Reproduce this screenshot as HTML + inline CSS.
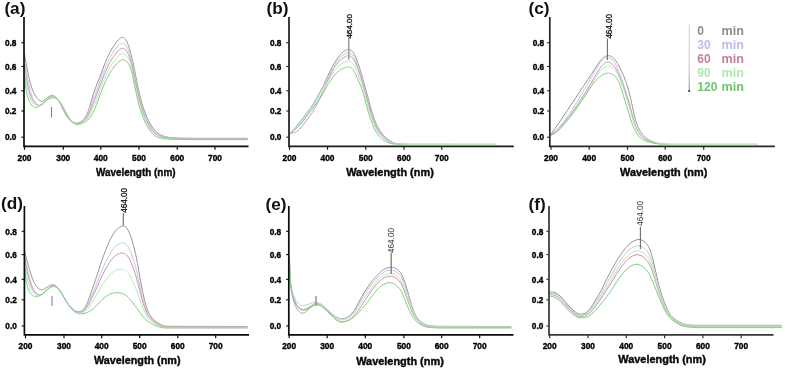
<!DOCTYPE html><html><head><meta charset="utf-8"><title>UV-Vis spectra</title><style>html,body{margin:0;padding:0;background:#fff;width:785px;height:370px;overflow:hidden}svg{display:block}text{font-family:"Liberation Sans", Arial, Helvetica, sans-serif}.tk{font-size:9px;font-weight:bold;fill:#000;stroke:#000;stroke-width:0.38px}.ti{font-size:10.8px;font-weight:bold;fill:#0a0a0a;stroke:#0a0a0a;stroke-width:0.4px}.pl{font-size:17.2px;font-weight:bold;fill:#111}.lb{font-size:8.2px;fill:#333}.lg{font-size:12px;font-weight:bold}</style></head><body><svg width="785" height="370" viewBox="0 0 785 370"><g fill="none" stroke-width="1.0" stroke-linejoin="round"><path d="M24.5,54.5 L26.5,65.3 L28.5,75.3 L29.5,79.8 L30.5,83.6 L31.5,87.0 L32.5,89.9 L33.5,92.2 L34.5,94.2 L35.5,95.9 L36.5,97.4 L37.5,98.6 L38.5,99.7 L39.5,100.5 L40.5,101.0 L41.5,101.3 L42.5,101.1 L43.5,100.7 L44.5,99.9 L47.5,97.3 L49.5,96.1 L50.5,95.7 L51.5,95.5 L52.5,95.5 L53.5,95.7 L54.5,96.2 L55.5,97.0 L56.5,97.9 L57.5,99.1 L58.5,100.6 L59.5,102.4 L63.5,110.4 L65.5,114.2 L67.5,117.3 L69.5,119.8 L70.5,120.8 L71.5,121.6 L72.5,122.2 L73.5,122.7 L74.5,122.9 L75.5,123.1 L76.5,123.1 L77.5,123.0 L78.5,122.7 L80.5,121.9 L81.5,121.3 L82.5,120.6 L83.5,119.6 L84.5,118.4 L85.5,117.0 L86.5,115.2 L87.5,113.0 L88.5,110.4 L89.5,107.4 L93.5,93.6 L95.5,87.9 L99.5,77.8 L105.5,61.9 L107.5,57.3 L110.5,51.3 L112.5,47.8 L114.5,44.8 L116.5,42.1 L118.5,39.7 L119.5,38.7 L120.5,37.9 L121.5,37.4 L122.5,37.3 L123.5,37.6 L124.5,38.3 L125.5,39.4 L126.5,41.0 L127.5,43.1 L128.5,45.7 L129.5,48.8 L130.5,52.3 L132.5,60.4 L134.5,69.8 L137.5,84.8 L139.5,94.1 L141.5,101.9 L142.5,105.3 L144.5,111.2 L146.5,116.3 L147.5,118.6 L148.5,120.7 L150.5,124.3 L152.5,127.3 L153.5,128.6 L155.5,130.8 L157.5,132.6 L159.5,134.1 L160.5,134.7 L161.5,135.3 L163.5,136.1 L165.5,136.6 L168.5,137.3 L171.5,137.7 L173.5,137.9 L180.5,138.1 L193.5,138.3 L247.5,138.3" stroke="#98988f"/><path d="M24.5,60.1 L25.5,66.9 L26.5,72.7 L28.5,83.3 L29.5,87.8 L30.5,91.5 L31.5,94.7 L32.5,97.4 L33.5,99.5 L34.5,101.1 L35.5,102.4 L36.5,103.5 L37.5,104.4 L38.5,105.0 L39.5,105.3 L40.5,105.3 L41.5,105.0 L42.5,104.4 L43.5,103.6 L47.5,99.1 L49.5,97.4 L50.5,96.8 L51.5,96.4 L52.5,96.2 L53.5,96.3 L54.5,96.7 L55.5,97.3 L56.5,98.2 L57.5,99.2 L58.5,100.5 L60.5,103.9 L65.5,113.5 L67.5,116.7 L69.5,119.4 L70.5,120.5 L71.5,121.4 L72.5,122.1 L73.5,122.7 L74.5,123.1 L75.5,123.3 L76.5,123.4 L77.5,123.4 L78.5,123.2 L80.5,122.5 L82.5,121.3 L83.5,120.4 L84.5,119.4 L85.5,118.2 L86.5,116.7 L87.5,114.9 L88.5,112.7 L89.5,110.2 L92.5,101.2 L94.5,95.6 L104.5,69.4 L107.5,62.5 L110.5,56.6 L112.5,53.3 L114.5,50.3 L116.5,47.7 L118.5,45.5 L119.5,44.5 L120.5,43.8 L121.5,43.3 L122.5,43.1 L123.5,43.3 L124.5,43.9 L125.5,44.9 L126.5,46.3 L127.5,48.1 L128.5,50.4 L129.5,53.2 L130.5,56.4 L131.5,60.2 L133.5,68.8 L137.5,88.5 L139.5,97.5 L141.5,104.9 L143.5,111.0 L145.5,116.2 L146.5,118.6 L147.5,120.7 L149.5,124.5 L151.5,127.6 L152.5,129.0 L154.5,131.3 L156.5,133.0 L158.5,134.5 L160.5,135.6 L161.5,136.1 L163.5,136.8 L165.5,137.2 L168.5,137.7 L173.5,138.3 L181.5,138.5 L194.5,138.6 L247.5,138.6" stroke="#c4c4f0"/><path d="M24.5,65.0 L25.5,72.8 L26.5,78.8 L27.5,83.8 L28.5,88.1 L29.5,91.9 L30.5,95.0 L31.5,97.7 L32.5,99.9 L33.5,101.6 L34.5,102.9 L35.5,103.9 L36.5,104.6 L37.5,105.1 L38.5,105.4 L39.5,105.4 L40.5,105.1 L41.5,104.6 L42.5,103.9 L43.5,103.1 L47.5,99.1 L49.5,97.6 L50.5,97.1 L51.5,96.8 L52.5,96.6 L53.5,96.8 L54.5,97.1 L55.5,97.6 L56.5,98.4 L57.5,99.3 L58.5,100.5 L59.5,101.9 L61.5,105.4 L64.5,111.0 L66.5,114.6 L68.5,117.7 L70.5,120.2 L71.5,121.2 L72.5,122.1 L73.5,122.7 L74.5,123.2 L75.5,123.6 L76.5,123.7 L77.5,123.8 L78.5,123.6 L79.5,123.4 L81.5,122.5 L83.5,121.2 L84.5,120.3 L85.5,119.3 L86.5,118.0 L87.5,116.5 L88.5,114.7 L90.5,110.2 L96.5,94.8 L101.5,81.5 L104.5,73.8 L107.5,67.0 L110.5,61.4 L112.5,58.2 L114.5,55.3 L116.5,52.7 L118.5,50.6 L119.5,49.7 L120.5,49.0 L121.5,48.5 L122.5,48.3 L123.5,48.5 L124.5,48.9 L125.5,49.8 L126.5,51.0 L127.5,52.6 L128.5,54.6 L129.5,57.1 L130.5,60.1 L131.5,63.6 L132.5,67.7 L137.5,91.8 L139.5,100.5 L141.5,107.5 L143.5,113.4 L145.5,118.4 L146.5,120.6 L147.5,122.7 L149.5,126.2 L151.5,129.2 L152.5,130.5 L154.5,132.6 L156.5,134.1 L158.5,135.4 L160.5,136.4 L161.5,136.8 L163.5,137.4 L167.5,138.1 L173.5,138.6 L182.5,138.8 L194.5,138.9 L247.5,138.9" stroke="#d092ac"/><path d="M24.5,70.2 L25.5,79.0 L26.5,85.1 L27.5,89.7 L28.5,93.4 L29.5,96.5 L30.5,98.9 L31.5,101.0 L32.5,102.6 L33.5,103.8 L34.5,104.7 L35.5,105.4 L36.5,105.7 L37.5,105.9 L38.5,105.8 L39.5,105.5 L41.5,104.4 L43.5,102.9 L47.5,99.5 L49.5,98.1 L50.5,97.7 L51.5,97.3 L52.5,97.2 L53.5,97.3 L54.5,97.5 L55.5,98.0 L56.5,98.6 L57.5,99.4 L58.5,100.4 L59.5,101.7 L61.5,104.9 L65.5,112.2 L67.5,115.7 L69.5,118.7 L70.5,119.9 L72.5,122.0 L73.5,122.7 L74.5,123.3 L75.5,123.8 L76.5,124.1 L77.5,124.2 L78.5,124.1 L79.5,123.8 L81.5,123.0 L83.5,121.9 L84.5,121.2 L86.5,119.4 L87.5,118.2 L88.5,116.8 L90.5,113.3 L93.5,106.8 L96.5,99.5 L100.5,88.6 L103.5,80.8 L106.5,73.9 L109.5,68.1 L111.5,64.7 L113.5,61.8 L115.5,59.1 L117.5,56.9 L119.5,55.1 L120.5,54.4 L121.5,53.9 L122.5,53.7 L123.5,53.8 L124.5,54.2 L125.5,54.9 L126.5,55.9 L127.5,57.2 L128.5,58.9 L129.5,61.1 L130.5,63.9 L131.5,67.2 L132.5,71.3 L136.5,90.6 L138.5,99.6 L140.5,107.1 L141.5,110.3 L143.5,115.8 L145.5,120.6 L146.5,122.7 L147.5,124.6 L149.5,128.0 L151.5,130.8 L152.5,132.0 L153.5,133.0 L155.5,134.7 L156.5,135.3 L158.5,136.4 L160.5,137.2 L162.5,137.8 L165.5,138.3 L171.5,138.8 L180.5,139.1 L193.5,139.2 L247.5,139.2" stroke="#b4ecb4"/><path d="M24.5,76.0 L25.5,86.0 L26.5,92.3 L27.5,96.3 L28.5,99.4 L29.5,101.7 L30.5,103.5 L31.5,105.0 L32.5,106.0 L33.5,106.8 L34.5,107.3 L35.5,107.5 L36.5,107.5 L37.5,107.2 L38.5,106.7 L39.5,106.0 L46.5,100.4 L48.5,99.2 L49.5,98.6 L50.5,98.2 L51.5,97.9 L52.5,97.8 L53.5,97.8 L54.5,98.0 L55.5,98.3 L56.5,98.8 L57.5,99.5 L58.5,100.3 L59.5,101.4 L60.5,102.8 L62.5,106.0 L66.5,113.3 L68.5,116.7 L70.5,119.6 L71.5,120.8 L73.5,122.8 L74.5,123.5 L75.5,124.1 L76.5,124.4 L77.5,124.6 L78.5,124.6 L79.5,124.4 L81.5,123.7 L83.5,122.8 L85.5,121.6 L87.5,120.2 L88.5,119.2 L89.5,118.1 L90.5,116.8 L92.5,113.6 L94.5,109.6 L96.5,104.7 L100.5,93.5 L103.5,85.9 L106.5,79.2 L109.5,73.6 L111.5,70.4 L114.5,66.2 L116.5,63.8 L118.5,61.9 L119.5,61.1 L120.5,60.5 L121.5,60.1 L122.5,59.8 L123.5,59.8 L124.5,60.0 L125.5,60.6 L126.5,61.4 L127.5,62.4 L128.5,63.8 L129.5,65.7 L130.5,68.1 L131.5,71.3 L132.5,75.3 L136.5,94.6 L138.5,103.3 L140.5,110.4 L142.5,116.1 L143.5,118.6 L145.5,123.1 L146.5,125.1 L148.5,128.5 L149.5,130.0 L151.5,132.6 L153.5,134.7 L154.5,135.5 L155.5,136.1 L157.5,137.1 L160.5,138.1 L163.5,138.8 L166.5,139.0 L178.5,139.4 L191.5,139.6 L247.5,139.6" stroke="#80d080"/><path d="M289.5,133.5 L295.5,127.4 L298.5,124.0 L309.5,109.4 L312.5,105.1 L316.5,98.5 L320.5,91.4 L323.5,85.4 L327.5,76.5 L330.5,70.3 L332.5,66.4 L334.5,62.9 L337.5,58.2 L339.5,55.5 L340.5,54.3 L341.5,53.3 L343.5,51.6 L345.5,50.3 L346.5,49.8 L347.5,49.5 L348.5,49.4 L349.5,49.6 L350.5,50.0 L351.5,50.7 L352.5,51.7 L353.5,53.0 L354.5,54.6 L355.5,56.5 L356.5,58.9 L357.5,61.5 L359.5,67.6 L362.5,77.4 L370.5,106.8 L372.5,113.8 L374.5,119.7 L376.5,124.5 L377.5,126.5 L379.5,130.0 L380.5,131.5 L382.5,134.1 L385.5,137.4 L387.5,139.2 L389.5,140.6 L392.5,142.3 L394.5,143.1 L395.5,143.4 L397.5,143.7 L401.5,143.9 L496.5,144.0" stroke="#98988f"/><path d="M289.5,133.6 L295.5,127.7 L297.5,125.6 L299.5,123.2 L309.5,110.0 L312.5,105.7 L317.5,97.7 L320.5,92.6 L322.5,88.7 L327.5,78.2 L330.5,72.3 L332.5,68.6 L334.5,65.2 L337.5,60.8 L339.5,58.4 L340.5,57.3 L341.5,56.3 L343.5,54.7 L345.5,53.6 L346.5,53.1 L347.5,52.9 L348.5,52.8 L349.5,52.9 L350.5,53.4 L351.5,54.0 L352.5,55.0 L353.5,56.3 L354.5,57.9 L355.5,59.9 L357.5,64.8 L359.5,70.5 L362.5,80.0 L371.5,112.6 L373.5,118.8 L375.5,123.9 L376.5,126.0 L378.5,129.7 L379.5,131.2 L381.5,134.0 L382.5,135.2 L384.5,137.3 L386.5,139.1 L388.5,140.5 L391.5,142.2 L393.5,143.0 L394.5,143.3 L397.5,143.8 L401.5,144.0 L496.5,144.1" stroke="#c4c4f0"/><path d="M289.5,133.7 L290.5,133.2 L292.5,133.0 L294.5,132.4 L295.5,132.1 L296.5,131.6 L297.5,130.9 L299.5,129.1 L301.5,126.9 L303.5,124.4 L311.5,113.6 L312.5,112.2 L314.5,108.7 L317.5,103.0 L320.5,97.0 L322.5,92.5 L326.5,83.0 L329.5,76.6 L332.5,70.8 L334.5,67.4 L336.5,64.5 L338.5,62.0 L340.5,59.9 L341.5,59.0 L343.5,57.6 L345.5,56.5 L346.5,56.1 L347.5,55.8 L348.5,55.8 L349.5,55.9 L350.5,56.3 L351.5,57.0 L352.5,58.0 L353.5,59.3 L354.5,60.9 L355.5,62.9 L357.5,67.7 L360.5,76.1 L362.5,82.3 L364.5,89.3 L368.5,104.1 L371.5,114.5 L373.5,120.5 L375.5,125.4 L376.5,127.4 L378.5,130.9 L379.5,132.4 L381.5,134.9 L382.5,136.1 L384.5,138.0 L386.5,139.7 L388.5,141.0 L391.5,142.5 L393.5,143.2 L394.5,143.5 L397.5,143.9 L401.5,144.1 L496.5,144.2" stroke="#d092ac"/><path d="M289.5,133.8 L296.5,127.6 L299.5,124.6 L302.5,120.9 L311.5,108.7 L316.5,101.6 L319.5,97.1 L321.5,93.7 L326.5,84.2 L329.5,78.8 L332.5,74.0 L335.5,69.8 L338.5,66.4 L340.5,64.6 L341.5,63.8 L343.5,62.6 L345.5,61.7 L347.5,61.1 L348.5,61.0 L349.5,61.2 L350.5,61.6 L351.5,62.3 L352.5,63.3 L353.5,64.6 L354.5,66.3 L355.5,68.2 L357.5,72.8 L360.5,80.6 L362.5,86.4 L364.5,93.3 L368.5,108.1 L371.5,118.0 L373.5,123.5 L375.5,128.0 L377.5,131.6 L378.5,133.0 L380.5,135.6 L381.5,136.7 L383.5,138.6 L385.5,140.1 L387.5,141.3 L390.5,142.6 L393.5,143.5 L396.5,144.0 L401.5,144.3 L496.5,144.3" stroke="#b4ecb4"/><path d="M289.5,134.0 L298.5,126.5 L300.5,124.5 L302.5,122.0 L308.5,113.8 L317.5,101.9 L319.5,99.1 L321.5,95.9 L326.5,87.0 L328.5,83.7 L331.5,79.2 L334.5,75.3 L335.5,74.2 L337.5,72.2 L339.5,70.5 L341.5,69.2 L343.5,68.3 L345.5,67.5 L347.5,67.1 L348.5,67.0 L349.5,67.2 L350.5,67.5 L351.5,68.2 L352.5,69.2 L353.5,70.6 L354.5,72.3 L355.5,74.2 L357.5,78.6 L359.5,83.2 L361.5,88.3 L363.5,94.3 L367.5,109.0 L370.5,119.0 L372.5,124.5 L374.5,129.1 L376.5,132.7 L377.5,134.2 L379.5,136.7 L380.5,137.7 L382.5,139.5 L384.5,140.9 L385.5,141.5 L386.5,142.0 L388.5,142.8 L390.5,143.4 L392.5,143.8 L396.5,144.2 L401.5,144.5 L496.5,144.5" stroke="#80d080"/><path d="M550.5,135.0 L554.5,129.3 L558.5,123.5 L590.5,75.5 L597.5,64.8 L599.5,61.9 L601.5,59.4 L602.5,58.4 L603.5,57.5 L604.5,56.8 L605.5,56.2 L606.5,55.9 L607.5,55.7 L608.5,55.6 L609.5,55.8 L610.5,56.0 L611.5,56.5 L612.5,57.2 L613.5,58.0 L614.5,59.1 L615.5,60.3 L617.5,63.4 L619.5,67.1 L621.5,71.1 L623.5,75.5 L625.5,80.6 L626.5,83.5 L628.5,90.0 L630.5,97.7 L633.5,111.7 L634.5,116.0 L635.5,119.7 L636.5,122.9 L637.5,125.6 L638.5,127.8 L639.5,129.8 L640.5,131.5 L642.5,134.3 L643.5,135.4 L645.5,137.5 L646.5,138.3 L648.5,139.7 L650.5,140.7 L652.5,141.6 L654.5,142.4 L656.5,142.9 L658.5,143.4 L660.5,143.6 L665.5,143.9 L672.5,144.0 L757.5,144.0" stroke="#98988f"/><path d="M550.5,135.3 L555.5,131.0 L558.5,127.9 L565.5,119.3 L569.5,114.0 L572.5,109.4 L583.5,90.9 L590.5,78.9 L596.5,68.2 L598.5,64.9 L599.5,63.4 L601.5,61.1 L602.5,60.1 L603.5,59.2 L604.5,58.6 L605.5,58.1 L606.5,57.8 L607.5,57.6 L608.5,57.6 L609.5,57.8 L610.5,58.2 L611.5,58.9 L612.5,59.8 L613.5,61.1 L614.5,62.5 L616.5,66.1 L618.5,70.3 L619.5,72.7 L622.5,81.1 L627.5,96.6 L629.5,103.5 L633.5,118.8 L634.5,122.1 L635.5,125.1 L636.5,127.6 L637.5,129.7 L638.5,131.5 L639.5,133.1 L640.5,134.4 L641.5,135.6 L643.5,137.5 L644.5,138.3 L646.5,139.6 L648.5,140.7 L650.5,141.5 L653.5,142.5 L655.5,143.1 L657.5,143.5 L659.5,143.7 L665.5,144.1 L672.5,144.2 L757.5,144.2" stroke="#c4c4f0"/><path d="M550.5,135.4 L555.5,132.0 L557.5,130.2 L558.5,129.2 L561.5,125.8 L568.5,117.3 L572.5,111.9 L582.5,97.1 L585.5,92.3 L590.5,83.9 L596.5,73.6 L599.5,68.9 L601.5,66.3 L603.5,64.1 L604.5,63.3 L605.5,62.6 L606.5,62.2 L607.5,62.0 L608.5,62.1 L609.5,62.4 L610.5,62.9 L611.5,63.6 L612.5,64.5 L614.5,66.7 L615.5,68.1 L617.5,71.6 L618.5,73.7 L620.5,78.6 L623.5,86.6 L625.5,92.5 L628.5,102.1 L633.5,120.3 L634.5,123.5 L635.5,126.3 L636.5,128.6 L637.5,130.7 L638.5,132.4 L639.5,133.8 L640.5,135.1 L641.5,136.1 L643.5,137.9 L644.5,138.7 L646.5,139.9 L648.5,140.9 L650.5,141.7 L653.5,142.6 L655.5,143.1 L657.5,143.5 L659.5,143.8 L665.5,144.2 L672.5,144.3 L757.5,144.3" stroke="#d092ac"/><path d="M550.5,135.5 L553.5,133.8 L555.5,132.6 L557.5,131.0 L558.5,130.0 L560.5,127.9 L565.5,122.0 L569.5,117.1 L572.5,113.0 L580.5,101.6 L583.5,97.2 L587.5,90.9 L596.5,76.1 L598.5,73.1 L599.5,71.8 L601.5,69.7 L602.5,68.7 L604.5,67.2 L605.5,66.7 L606.5,66.4 L607.5,66.2 L608.5,66.2 L609.5,66.3 L610.5,66.6 L611.5,67.1 L612.5,67.7 L613.5,68.5 L614.5,69.5 L615.5,70.7 L616.5,72.1 L617.5,73.9 L618.5,75.8 L620.5,80.6 L624.5,91.8 L627.5,101.2 L633.5,122.0 L634.5,125.0 L635.5,127.6 L636.5,129.8 L637.5,131.7 L638.5,133.3 L639.5,134.6 L640.5,135.8 L642.5,137.7 L644.5,139.1 L646.5,140.3 L648.5,141.1 L650.5,141.9 L653.5,142.8 L655.5,143.2 L659.5,143.9 L665.5,144.2 L672.5,144.3 L757.5,144.3" stroke="#b4ecb4"/><path d="M550.5,135.5 L554.5,133.5 L555.5,132.9 L557.5,131.4 L558.5,130.5 L560.5,128.4 L568.5,119.2 L571.5,115.3 L581.5,101.4 L585.5,95.4 L591.5,86.0 L593.5,83.2 L595.5,80.8 L598.5,77.9 L600.5,76.3 L602.5,75.0 L604.5,74.0 L605.5,73.6 L607.5,73.2 L608.5,73.2 L609.5,73.3 L610.5,73.5 L611.5,73.8 L612.5,74.3 L613.5,75.0 L614.5,75.8 L615.5,76.9 L616.5,78.2 L617.5,79.7 L618.5,81.6 L619.5,83.9 L621.5,89.5 L626.5,105.4 L630.5,118.8 L632.5,124.8 L633.5,127.4 L635.5,131.6 L636.5,133.3 L637.5,134.8 L638.5,136.1 L639.5,137.1 L641.5,138.8 L642.5,139.4 L644.5,140.5 L646.5,141.3 L648.5,141.9 L651.5,142.7 L654.5,143.4 L656.5,143.7 L659.5,144.0 L665.5,144.4 L672.5,144.5 L757.5,144.5" stroke="#80d080"/><path d="M24.5,250.5 L25.5,255.1 L26.5,258.9 L29.5,269.5 L31.5,276.0 L32.5,278.8 L33.5,281.2 L34.5,283.3 L35.5,285.0 L36.5,286.4 L37.5,287.7 L38.5,288.6 L39.5,289.3 L40.5,289.7 L41.5,289.8 L42.5,289.7 L43.5,289.4 L44.5,288.8 L48.5,286.2 L50.5,285.2 L51.5,284.9 L52.5,284.8 L53.5,284.9 L54.5,285.2 L55.5,285.7 L56.5,286.5 L57.5,287.5 L58.5,288.7 L60.5,291.7 L64.5,298.3 L67.5,303.0 L69.5,305.7 L71.5,308.0 L73.5,309.8 L74.5,310.5 L75.5,311.0 L76.5,311.4 L77.5,311.5 L78.5,311.6 L79.5,311.4 L80.5,311.2 L81.5,310.8 L82.5,310.2 L83.5,309.2 L84.5,308.0 L85.5,306.4 L86.5,304.5 L87.5,302.3 L89.5,297.3 L92.5,288.8 L95.5,279.9 L100.5,264.5 L103.5,255.8 L105.5,250.5 L107.5,245.6 L109.5,241.2 L111.5,237.2 L113.5,233.7 L114.5,232.2 L115.5,230.9 L117.5,228.8 L119.5,227.3 L120.5,226.7 L121.5,226.2 L122.5,226.0 L123.5,226.0 L124.5,226.3 L125.5,226.9 L126.5,227.8 L127.5,229.1 L128.5,230.8 L129.5,233.0 L130.5,235.6 L131.5,238.6 L133.5,245.4 L135.5,253.4 L136.5,258.2 L137.5,263.5 L140.5,280.9 L142.5,291.3 L144.5,300.0 L146.5,307.3 L147.5,310.1 L148.5,312.4 L149.5,314.3 L150.5,315.9 L152.5,318.4 L153.5,319.5 L155.5,321.3 L156.5,322.0 L158.5,323.3 L161.5,324.8 L163.5,325.5 L164.5,325.8 L165.5,326.0 L167.5,326.3 L195.5,326.4 L247.5,326.5" stroke="#98988f"/><path d="M24.5,254.4 L25.5,260.4 L27.5,269.8 L29.5,277.8 L30.5,281.2 L31.5,284.3 L32.5,286.9 L33.5,289.1 L34.5,290.8 L35.5,292.1 L36.5,293.2 L37.5,294.1 L38.5,294.7 L39.5,295.1 L40.5,295.1 L41.5,294.7 L42.5,294.2 L43.5,293.4 L44.5,292.4 L48.5,288.2 L50.5,286.5 L51.5,286.0 L52.5,285.6 L53.5,285.4 L54.5,285.6 L55.5,286.1 L56.5,286.8 L57.5,287.7 L58.5,288.9 L60.5,291.7 L65.5,300.0 L67.5,303.1 L69.5,305.9 L71.5,308.2 L73.5,310.1 L74.5,310.8 L75.5,311.4 L76.5,311.8 L77.5,312.0 L78.5,312.1 L79.5,312.0 L80.5,311.9 L81.5,311.5 L82.5,311.0 L83.5,310.3 L84.5,309.3 L85.5,308.1 L86.5,306.6 L87.5,304.8 L89.5,300.8 L92.5,294.0 L95.5,286.6 L100.5,273.7 L103.5,266.5 L105.5,262.1 L107.5,258.1 L110.5,252.8 L112.5,249.8 L113.5,248.5 L114.5,247.3 L116.5,245.5 L118.5,244.2 L120.5,243.3 L121.5,243.0 L122.5,242.9 L123.5,243.0 L124.5,243.3 L125.5,243.9 L126.5,244.8 L127.5,245.9 L128.5,247.5 L129.5,249.4 L130.5,251.7 L132.5,257.0 L134.5,263.2 L136.5,270.6 L137.5,274.9 L140.5,289.0 L142.5,297.4 L144.5,304.6 L146.5,310.5 L147.5,312.8 L148.5,314.7 L149.5,316.3 L150.5,317.7 L152.5,319.9 L153.5,320.8 L155.5,322.4 L156.5,323.1 L158.5,324.2 L161.5,325.5 L164.5,326.4 L167.5,326.7 L195.5,326.8 L247.5,326.9" stroke="#c4c4f0"/><path d="M24.5,256.7 L25.5,263.5 L26.5,268.8 L27.5,273.2 L29.5,280.7 L31.5,286.4 L32.5,288.7 L33.5,290.5 L34.5,291.9 L35.5,293.0 L36.5,293.9 L37.5,294.6 L38.5,295.0 L39.5,295.2 L40.5,295.1 L41.5,294.7 L42.5,294.0 L43.5,293.2 L48.5,288.3 L50.5,286.8 L51.5,286.2 L52.5,285.8 L53.5,285.7 L54.5,285.8 L55.5,286.3 L56.5,286.9 L57.5,287.8 L58.5,289.0 L59.5,290.3 L61.5,293.3 L66.5,301.6 L68.5,304.6 L70.5,307.2 L72.5,309.3 L73.5,310.2 L74.5,311.0 L75.5,311.6 L76.5,312.0 L77.5,312.3 L78.5,312.4 L79.5,312.4 L80.5,312.3 L81.5,312.0 L82.5,311.5 L83.5,310.9 L84.5,310.1 L85.5,309.0 L86.5,307.8 L88.5,304.7 L91.5,299.1 L94.5,292.8 L100.5,279.2 L102.5,274.9 L105.5,269.1 L108.5,264.0 L110.5,261.1 L112.5,258.5 L114.5,256.4 L115.5,255.6 L117.5,254.3 L119.5,253.5 L121.5,253.0 L122.5,253.0 L123.5,253.2 L124.5,253.5 L125.5,254.1 L126.5,255.0 L127.5,256.1 L128.5,257.5 L129.5,259.2 L131.5,263.6 L133.5,268.8 L135.5,274.7 L137.5,281.8 L140.5,293.9 L142.5,301.1 L144.5,307.3 L146.5,312.4 L147.5,314.4 L148.5,316.1 L149.5,317.5 L150.5,318.7 L151.5,319.8 L153.5,321.6 L154.5,322.4 L156.5,323.7 L159.5,325.1 L162.5,326.2 L164.5,326.7 L167.5,326.9 L247.5,327.1" stroke="#d092ac"/><path d="M24.5,260.4 L25.5,268.5 L26.5,274.4 L27.5,278.8 L28.5,282.4 L29.5,285.5 L30.5,288.0 L31.5,290.1 L32.5,291.9 L33.5,293.3 L34.5,294.3 L35.5,295.0 L36.5,295.6 L37.5,295.9 L38.5,296.0 L39.5,295.9 L40.5,295.6 L41.5,295.0 L42.5,294.3 L44.5,292.5 L48.5,288.6 L50.5,287.1 L51.5,286.6 L52.5,286.2 L53.5,286.1 L54.5,286.2 L55.5,286.6 L56.5,287.2 L57.5,288.1 L58.5,289.1 L59.5,290.3 L61.5,293.3 L65.5,300.1 L67.5,303.3 L70.5,307.4 L72.5,309.6 L74.5,311.3 L75.5,311.9 L76.5,312.4 L77.5,312.7 L78.5,312.9 L79.5,313.0 L81.5,312.7 L82.5,312.4 L83.5,311.9 L84.5,311.4 L86.5,309.8 L87.5,308.8 L89.5,306.3 L92.5,302.0 L94.5,298.8 L100.5,288.1 L102.5,284.7 L105.5,280.2 L108.5,276.3 L110.5,274.2 L112.5,272.4 L114.5,271.0 L115.5,270.4 L116.5,270.0 L118.5,269.4 L120.5,269.1 L121.5,269.1 L122.5,269.2 L123.5,269.5 L124.5,269.9 L125.5,270.5 L126.5,271.3 L127.5,272.3 L128.5,273.5 L129.5,275.0 L130.5,276.7 L132.5,280.6 L135.5,287.5 L137.5,292.8 L141.5,304.4 L143.5,309.5 L145.5,313.7 L146.5,315.5 L147.5,317.0 L149.5,319.4 L150.5,320.4 L152.5,322.1 L154.5,323.5 L156.5,324.6 L159.5,325.9 L162.5,326.8 L164.5,327.2 L167.5,327.4 L247.5,327.5" stroke="#b4ecb4"/><path d="M24.5,266.0 L25.5,276.1 L26.5,282.6 L27.5,286.8 L28.5,289.8 L29.5,291.9 L30.5,293.4 L31.5,294.6 L32.5,295.5 L33.5,296.0 L34.5,296.4 L35.5,296.6 L36.5,296.6 L37.5,296.5 L38.5,296.1 L40.5,295.0 L42.5,293.5 L47.5,289.5 L49.5,288.1 L50.5,287.5 L51.5,287.1 L52.5,286.7 L53.5,286.6 L54.5,286.7 L55.5,287.1 L56.5,287.6 L57.5,288.4 L58.5,289.3 L59.5,290.4 L60.5,291.8 L62.5,294.9 L65.5,300.2 L67.5,303.5 L69.5,306.4 L71.5,308.8 L73.5,310.9 L75.5,312.4 L76.5,313.0 L77.5,313.4 L78.5,313.7 L79.5,313.8 L81.5,313.8 L84.5,313.3 L87.5,312.4 L89.5,311.4 L91.5,310.2 L93.5,308.6 L95.5,306.7 L100.5,301.4 L102.5,299.4 L105.5,296.9 L107.5,295.4 L109.5,294.4 L110.5,293.9 L112.5,293.3 L115.5,292.7 L116.5,292.6 L118.5,292.7 L121.5,293.2 L123.5,293.9 L125.5,295.0 L126.5,295.7 L128.5,297.5 L129.5,298.6 L131.5,301.1 L135.5,306.6 L142.5,315.9 L144.5,318.3 L146.5,320.1 L149.5,322.3 L151.5,323.6 L153.5,324.8 L156.5,326.1 L159.5,327.1 L162.5,327.7 L164.5,327.9 L166.5,328.0 L247.5,328.0" stroke="#80d080"/><path d="M289.3,256.0 L290.3,281.1 L291.3,288.6 L292.3,293.4 L293.3,297.0 L294.3,299.9 L295.3,302.1 L296.3,304.0 L297.3,305.6 L298.3,306.9 L299.3,307.9 L300.3,308.7 L301.3,309.2 L302.3,309.4 L303.3,309.4 L304.3,309.3 L305.3,309.0 L306.3,308.6 L308.3,307.6 L312.3,304.9 L314.3,303.8 L315.3,303.5 L316.3,303.4 L317.3,303.5 L318.3,303.8 L319.3,304.3 L320.3,304.8 L322.3,306.1 L325.3,308.4 L330.3,312.8 L332.3,314.4 L335.3,316.4 L337.3,317.6 L339.3,318.4 L340.3,318.6 L341.3,318.8 L343.3,318.6 L344.3,318.4 L346.3,317.7 L348.3,316.6 L350.3,315.1 L352.3,313.0 L354.3,310.3 L356.3,307.0 L361.3,297.5 L364.3,292.3 L370.3,283.3 L372.3,280.7 L374.3,278.3 L380.3,272.2 L382.3,270.5 L383.3,269.8 L385.3,268.6 L387.3,267.8 L389.3,267.4 L391.3,267.3 L392.3,267.4 L394.3,267.9 L396.3,268.8 L397.3,269.4 L398.3,270.2 L399.3,271.1 L400.3,272.3 L401.3,273.9 L402.3,275.8 L403.3,278.1 L405.3,283.5 L407.3,290.1 L411.3,304.3 L413.3,310.1 L414.3,312.6 L415.3,314.7 L416.3,316.5 L417.3,318.0 L418.3,319.3 L419.3,320.3 L421.3,322.1 L422.3,322.8 L424.3,324.0 L426.3,324.9 L427.3,325.2 L429.3,325.6 L433.3,326.0 L438.3,326.3 L467.3,326.4 L511.3,326.5" stroke="#98988f"/><path d="M289.3,256.4 L290.3,280.5 L291.3,287.2 L292.3,291.4 L293.3,294.6 L294.3,297.0 L295.3,298.9 L296.3,300.7 L297.3,302.1 L298.3,303.3 L299.3,304.3 L300.3,304.9 L301.3,305.4 L302.3,305.6 L303.3,305.6 L304.3,305.4 L307.3,304.6 L309.3,303.9 L312.3,302.7 L314.3,302.0 L315.3,301.9 L316.3,302.0 L317.3,302.2 L318.3,302.5 L320.3,303.5 L321.3,304.2 L323.3,305.7 L326.3,308.4 L331.3,313.2 L334.3,315.6 L337.3,317.7 L339.3,318.7 L340.3,319.0 L341.3,319.1 L342.3,319.2 L343.3,319.1 L345.3,318.7 L347.3,317.9 L348.3,317.3 L350.3,315.9 L351.3,314.9 L353.3,312.7 L355.3,310.0 L357.3,306.8 L362.3,298.0 L364.3,294.8 L367.3,290.3 L371.3,284.6 L374.3,281.0 L379.3,275.8 L381.3,273.9 L383.3,272.5 L385.3,271.3 L387.3,270.6 L389.3,270.2 L391.3,270.1 L392.3,270.2 L394.3,270.8 L396.3,271.8 L397.3,272.5 L398.3,273.3 L399.3,274.2 L400.3,275.5 L401.3,277.0 L402.3,279.0 L403.3,281.2 L405.3,286.6 L407.3,292.9 L411.3,306.1 L413.3,311.5 L414.3,313.7 L415.3,315.7 L416.3,317.3 L417.3,318.8 L418.3,319.9 L419.3,321.0 L421.3,322.6 L422.3,323.3 L424.3,324.5 L426.3,325.3 L427.3,325.6 L429.3,325.9 L433.3,326.3 L438.3,326.6 L466.3,326.7 L511.3,326.8" stroke="#c4c4f0"/><path d="M289.3,257.2 L290.3,282.4 L291.3,290.4 L292.3,295.6 L293.3,299.7 L294.3,303.0 L295.3,305.6 L296.3,307.6 L297.3,309.3 L298.3,310.7 L299.3,311.7 L300.3,312.5 L301.3,313.0 L302.3,313.2 L303.3,313.1 L304.3,312.7 L305.3,312.1 L306.3,311.3 L310.3,307.8 L312.3,306.4 L313.3,305.8 L315.3,305.0 L316.3,304.8 L317.3,304.8 L318.3,304.9 L319.3,305.1 L320.3,305.6 L321.3,306.1 L323.3,307.6 L326.3,310.3 L333.3,317.3 L336.3,319.8 L338.3,321.1 L339.3,321.5 L340.3,321.8 L341.3,322.0 L342.3,322.0 L344.3,321.7 L346.3,321.2 L347.3,320.8 L349.3,319.8 L351.3,318.4 L353.3,316.5 L356.3,313.0 L358.3,310.4 L361.3,306.1 L371.3,290.9 L374.3,287.0 L376.3,284.6 L378.3,282.5 L380.3,280.6 L381.3,279.8 L382.3,279.1 L384.3,277.8 L386.3,276.9 L387.3,276.6 L388.3,276.4 L390.3,276.3 L392.3,276.5 L393.3,276.8 L395.3,277.7 L396.3,278.4 L398.3,280.1 L399.3,281.1 L400.3,282.4 L401.3,284.0 L402.3,286.0 L403.3,288.2 L405.3,293.5 L410.3,307.6 L412.3,312.4 L414.3,316.3 L415.3,317.9 L416.3,319.3 L418.3,321.5 L419.3,322.4 L421.3,323.8 L423.3,325.0 L424.3,325.4 L426.3,326.1 L429.3,326.6 L433.3,327.0 L438.3,327.2 L511.3,327.4" stroke="#d092ac"/><path d="M289.3,256.8 L290.3,281.6 L291.3,289.1 L292.3,293.8 L293.3,297.5 L294.3,300.3 L295.3,302.5 L296.3,304.4 L297.3,306.0 L298.3,307.3 L299.3,308.3 L300.3,309.0 L301.3,309.5 L302.3,309.7 L303.3,309.7 L305.3,309.4 L307.3,308.5 L312.3,305.4 L314.3,304.5 L315.3,304.2 L316.3,304.0 L317.3,304.0 L318.3,304.2 L319.3,304.5 L320.3,304.9 L321.3,305.5 L323.3,306.9 L326.3,309.4 L331.3,314.1 L333.3,315.9 L335.3,317.4 L337.3,318.7 L339.3,319.6 L340.3,319.9 L341.3,320.0 L343.3,319.9 L344.3,319.7 L346.3,319.1 L348.3,318.2 L350.3,316.9 L352.3,315.1 L354.3,312.9 L357.3,308.8 L363.3,299.5 L370.3,289.4 L372.3,286.8 L374.3,284.3 L378.3,280.0 L380.3,278.1 L382.3,276.6 L384.3,275.3 L385.3,274.8 L387.3,274.0 L388.3,273.8 L390.3,273.6 L391.3,273.7 L393.3,274.1 L394.3,274.5 L396.3,275.6 L398.3,277.2 L399.3,278.2 L400.3,279.5 L401.3,281.0 L402.3,283.0 L404.3,287.8 L406.3,293.5 L409.3,302.7 L411.3,308.4 L413.3,313.2 L414.3,315.2 L415.3,317.0 L416.3,318.5 L418.3,320.8 L419.3,321.8 L421.3,323.3 L423.3,324.5 L424.3,325.0 L426.3,325.7 L429.3,326.3 L433.3,326.7 L438.3,327.0 L511.3,327.1" stroke="#b4ecb4"/><path d="M289.3,258.0 L290.3,282.2 L291.3,289.7 L292.3,294.4 L293.3,298.1 L294.3,300.9 L295.3,303.1 L296.3,305.0 L297.3,306.6 L298.3,307.8 L299.3,308.8 L300.3,309.5 L301.3,309.9 L302.3,310.2 L303.3,310.2 L305.3,309.9 L307.3,309.1 L311.3,306.6 L313.3,305.7 L314.3,305.3 L316.3,304.9 L318.3,304.7 L319.3,304.9 L320.3,305.2 L321.3,305.7 L322.3,306.3 L324.3,307.8 L327.3,310.6 L332.3,315.9 L334.3,317.9 L336.3,319.6 L338.3,320.9 L339.3,321.4 L340.3,321.7 L341.3,321.8 L342.3,321.8 L344.3,321.6 L347.3,320.9 L349.3,320.1 L350.3,319.5 L352.3,318.2 L356.3,314.8 L359.3,311.9 L362.3,308.6 L364.3,306.2 L374.3,292.9 L377.3,289.5 L379.3,287.5 L380.3,286.7 L382.3,285.3 L385.3,283.6 L387.3,282.9 L388.3,282.8 L390.3,282.7 L392.3,283.1 L393.3,283.5 L394.3,283.9 L395.3,284.5 L397.3,286.2 L399.3,288.4 L400.3,289.7 L401.3,291.3 L402.3,293.3 L403.3,295.6 L407.3,305.8 L409.3,310.4 L411.3,314.4 L413.3,317.6 L415.3,320.2 L416.3,321.3 L418.3,323.1 L421.3,325.1 L423.3,326.1 L424.3,326.4 L426.3,327.0 L429.3,327.4 L434.3,327.8 L438.3,328.0 L511.3,328.0" stroke="#80d080"/><path d="M549.0,292.5 L550.0,292.1 L551.0,292.0 L553.0,292.0 L554.0,292.2 L556.0,293.0 L558.0,294.2 L560.0,295.9 L562.0,297.9 L568.0,304.9 L571.0,308.2 L574.0,311.0 L576.0,312.5 L577.0,313.2 L578.0,313.7 L579.0,314.1 L580.0,314.2 L581.0,314.3 L582.0,314.1 L584.0,313.6 L585.0,313.2 L586.0,312.7 L587.0,311.9 L589.0,310.0 L591.0,307.4 L593.0,304.2 L599.0,294.2 L601.0,290.7 L607.0,278.3 L615.0,263.6 L618.0,258.5 L620.0,255.5 L622.0,252.7 L625.0,248.8 L627.0,246.4 L629.0,244.3 L631.0,242.7 L633.0,241.4 L636.0,240.1 L638.0,239.5 L639.0,239.5 L640.0,239.5 L641.0,239.8 L642.0,240.2 L644.0,241.4 L645.0,242.2 L646.0,243.2 L647.0,244.4 L648.0,245.9 L649.0,247.7 L650.0,250.0 L651.0,252.7 L652.0,256.0 L653.0,259.7 L658.0,281.6 L660.0,289.3 L662.0,295.7 L665.0,303.8 L667.0,308.6 L668.0,310.7 L670.0,314.2 L671.0,315.6 L672.0,316.7 L674.0,318.5 L676.0,320.0 L678.0,321.2 L681.0,322.9 L684.0,324.2 L685.0,324.5 L687.0,324.9 L690.0,325.1 L700.0,325.3 L782.0,325.3" stroke="#98988f"/><path d="M549.0,293.4 L550.0,293.1 L551.0,293.0 L553.0,293.1 L554.0,293.4 L556.0,294.2 L558.0,295.5 L559.0,296.3 L561.0,298.2 L568.0,306.2 L571.0,309.3 L574.0,312.0 L576.0,313.5 L577.0,314.1 L578.0,314.6 L579.0,315.0 L580.0,315.1 L581.0,315.2 L582.0,315.1 L584.0,314.7 L586.0,313.8 L587.0,313.2 L588.0,312.4 L590.0,310.4 L592.0,307.9 L594.0,304.9 L601.0,293.9 L607.0,282.8 L616.0,267.1 L619.0,262.4 L621.0,259.5 L623.0,256.8 L626.0,253.2 L628.0,251.0 L629.0,250.1 L631.0,248.5 L633.0,247.3 L635.0,246.4 L637.0,245.9 L638.0,245.8 L639.0,245.8 L640.0,245.9 L641.0,246.2 L642.0,246.7 L644.0,248.0 L645.0,248.8 L646.0,249.8 L647.0,251.0 L648.0,252.4 L649.0,254.2 L650.0,256.3 L651.0,258.9 L652.0,261.9 L653.0,265.3 L658.0,284.9 L660.0,291.9 L661.0,295.0 L663.0,300.6 L665.0,305.6 L667.0,310.0 L668.0,311.9 L670.0,315.1 L671.0,316.4 L672.0,317.5 L673.0,318.4 L675.0,319.9 L677.0,321.3 L680.0,323.0 L683.0,324.4 L684.0,324.8 L686.0,325.2 L689.0,325.6 L694.0,325.8 L701.0,325.9 L782.0,325.9" stroke="#c4c4f0"/><path d="M549.0,294.6 L550.0,294.5 L551.0,294.6 L553.0,294.8 L554.0,295.2 L556.0,296.1 L558.0,297.4 L559.0,298.2 L561.0,300.2 L568.0,308.0 L571.0,311.0 L574.0,313.5 L576.0,314.9 L577.0,315.5 L578.0,315.9 L579.0,316.2 L580.0,316.4 L581.0,316.5 L582.0,316.4 L584.0,316.1 L586.0,315.5 L588.0,314.4 L590.0,312.8 L592.0,310.7 L595.0,306.9 L600.0,300.0 L603.0,295.6 L611.0,283.0 L616.0,274.8 L618.0,271.7 L621.0,267.3 L624.0,263.5 L626.0,261.2 L628.0,259.2 L629.0,258.3 L631.0,256.9 L633.0,255.8 L635.0,255.1 L637.0,254.7 L638.0,254.7 L639.0,254.9 L641.0,255.5 L642.0,256.0 L644.0,257.4 L646.0,259.3 L647.0,260.5 L648.0,261.8 L649.0,263.5 L650.0,265.5 L651.0,267.8 L652.0,270.4 L654.0,276.5 L658.0,289.7 L661.0,298.5 L663.0,303.5 L665.0,308.1 L667.0,312.0 L668.0,313.7 L670.0,316.5 L672.0,318.5 L674.0,320.2 L676.0,321.6 L678.0,322.9 L680.0,324.0 L682.0,324.9 L683.0,325.3 L686.0,326.0 L690.0,326.3 L696.0,326.6 L702.0,326.7 L782.0,326.7" stroke="#d092ac"/><path d="M549.0,294.1 L550.0,293.9 L551.0,293.9 L553.0,294.1 L554.0,294.4 L556.0,295.3 L558.0,296.6 L559.0,297.4 L561.0,299.3 L568.0,307.2 L571.0,310.3 L574.0,312.9 L576.0,314.3 L577.0,314.9 L578.0,315.4 L579.0,315.7 L580.0,315.8 L581.0,315.9 L582.0,315.8 L584.0,315.5 L586.0,314.8 L587.0,314.2 L588.0,313.5 L590.0,311.7 L592.0,309.5 L595.0,305.3 L600.0,298.1 L602.0,294.9 L606.0,288.1 L617.0,269.8 L621.0,263.8 L624.0,260.0 L626.0,257.6 L628.0,255.6 L629.0,254.7 L631.0,253.2 L633.0,252.1 L635.0,251.2 L637.0,250.8 L638.0,250.7 L639.0,250.8 L640.0,251.0 L641.0,251.4 L642.0,251.9 L643.0,252.5 L645.0,254.1 L647.0,256.3 L648.0,257.7 L649.0,259.3 L650.0,261.4 L651.0,263.8 L653.0,269.8 L658.0,287.5 L660.0,294.0 L661.0,297.0 L663.0,302.2 L665.0,307.0 L667.0,311.1 L668.0,312.9 L670.0,315.9 L672.0,318.1 L673.0,318.9 L675.0,320.5 L678.0,322.4 L680.0,323.6 L683.0,324.9 L684.0,325.2 L686.0,325.6 L690.0,326.0 L696.0,326.3 L782.0,326.3" stroke="#b4ecb4"/><path d="M549.0,296.0 L550.0,296.1 L552.0,296.4 L554.0,297.1 L556.0,298.1 L558.0,299.5 L559.0,300.3 L561.0,302.3 L567.0,308.9 L570.0,311.9 L573.0,314.5 L576.0,316.4 L578.0,317.3 L579.0,317.6 L581.0,317.9 L584.0,317.7 L586.0,317.3 L587.0,317.0 L588.0,316.6 L590.0,315.4 L592.0,313.8 L593.0,312.9 L595.0,310.8 L604.0,300.2 L607.0,296.3 L610.0,292.1 L617.0,281.5 L620.0,277.2 L623.0,273.3 L625.0,271.0 L628.0,268.1 L629.0,267.3 L631.0,266.0 L633.0,265.0 L634.0,264.7 L635.0,264.4 L636.0,264.3 L637.0,264.3 L638.0,264.4 L640.0,265.1 L642.0,266.2 L643.0,266.9 L644.0,267.7 L646.0,269.6 L648.0,272.0 L649.0,273.6 L650.0,275.4 L652.0,279.7 L659.0,297.4 L662.0,304.5 L665.0,310.8 L667.0,314.2 L668.0,315.6 L670.0,317.9 L671.0,318.8 L673.0,320.5 L676.0,322.6 L678.0,323.9 L681.0,325.5 L683.0,326.2 L686.0,326.7 L692.0,327.3 L698.0,327.6 L782.0,327.6" stroke="#80d080"/></g><defs><linearGradient id="vg1" gradientUnits="userSpaceOnUse" x1="392" y1="0" x2="410" y2="0"><stop offset="0" stop-color="#fff" stop-opacity="0"/><stop offset="1" stop-color="#fff" stop-opacity="0.55"/></linearGradient><linearGradient id="vg2" gradientUnits="userSpaceOnUse" x1="655" y1="0" x2="673" y2="0"><stop offset="0" stop-color="#fff" stop-opacity="0"/><stop offset="1" stop-color="#fff" stop-opacity="0.55"/></linearGradient></defs><rect x="392" y="142.3" width="106" height="3.2" fill="url(#vg1)"/><rect x="655" y="142.3" width="104" height="3.2" fill="url(#vg2)"/><g fill="none" stroke-width="1.1"><path d="M51.50,107.00 V117.50" stroke="#8a7f95" stroke-width="1.10"/><path d="M348.80,38.00 V59.50" stroke="#9a9aa2" stroke-width="1.50"/><path d="M607.40,38.50 V60.00" stroke="#6a6a70" stroke-width="1.10"/><path d="M52.00,296.00 V306.00" stroke="#8a7f95" stroke-width="1.10"/><path d="M316.00,296.00 V305.50" stroke="#909098" stroke-width="1.50"/><path d="M123.30,213.00 V225.50" stroke="#707070" stroke-width="1.10"/><path d="M391.20,253.00 V274.00" stroke="#7a7a80" stroke-width="1.30"/><path d="M640.40,226.50 V249.00" stroke="#6a6a70" stroke-width="1.10"/></g><g fill="none" stroke="#0c0c0c" stroke-width="1.7" stroke-linecap="butt"><path d="M24.00,17.00 V146.30 H248.50"/><path d="M21.30,137.20 H24.00" stroke-width="1.1"/><path d="M21.30,111.00 H24.00" stroke-width="1.1"/><path d="M21.30,90.80 H24.00" stroke-width="1.1"/><path d="M21.30,66.50 H24.00" stroke-width="1.1"/><path d="M21.30,42.70 H24.00" stroke-width="1.1"/><path d="M24.50,146.30 V149.80" stroke-width="1.2"/><path d="M63.30,146.30 V149.80" stroke-width="1.2"/><path d="M100.80,146.30 V149.80" stroke-width="1.2"/><path d="M139.00,146.30 V149.80" stroke-width="1.2"/><path d="M177.30,146.30 V149.80" stroke-width="1.2"/><path d="M215.00,146.30 V149.80" stroke-width="1.2"/></g><g fill="none" stroke="#1c1c1c" stroke-width="1.7" stroke-linecap="butt"><path d="M289.00,17.00 V146.30 H513.80"/><path d="M286.30,137.20 H289.00" stroke-width="1.1"/><path d="M286.30,111.00 H289.00" stroke-width="1.1"/><path d="M286.30,90.80 H289.00" stroke-width="1.1"/><path d="M286.30,66.50 H289.00" stroke-width="1.1"/><path d="M286.30,42.70 H289.00" stroke-width="1.1"/><path d="M289.50,146.30 V149.80" stroke-width="1.2"/><path d="M327.50,146.30 V149.80" stroke-width="1.2"/><path d="M365.80,146.30 V149.80" stroke-width="1.2"/><path d="M404.00,146.30 V149.80" stroke-width="1.2"/><path d="M441.80,146.30 V149.80" stroke-width="1.2"/></g><g fill="none" stroke="#262626" stroke-width="1.7" stroke-linecap="butt"><path d="M549.80,17.00 V146.30 H774.80"/><path d="M547.10,137.20 H549.80" stroke-width="1.1"/><path d="M547.10,111.00 H549.80" stroke-width="1.1"/><path d="M547.10,90.80 H549.80" stroke-width="1.1"/><path d="M547.10,66.50 H549.80" stroke-width="1.1"/><path d="M547.10,42.70 H549.80" stroke-width="1.1"/><path d="M551.00,146.30 V149.80" stroke-width="1.2"/><path d="M589.20,146.30 V149.80" stroke-width="1.2"/><path d="M627.50,146.30 V149.80" stroke-width="1.2"/><path d="M665.20,146.30 V149.80" stroke-width="1.2"/><path d="M703.70,146.30 V149.80" stroke-width="1.2"/></g><g fill="none" stroke="#0c0c0c" stroke-width="1.7" stroke-linecap="butt"><path d="M24.40,206.00 V334.80 H249.00"/><path d="M21.70,326.00 H24.40" stroke-width="1.1"/><path d="M21.70,299.80 H24.40" stroke-width="1.1"/><path d="M21.70,279.30 H24.40" stroke-width="1.1"/><path d="M21.70,254.60 H24.40" stroke-width="1.1"/><path d="M21.70,231.30 H24.40" stroke-width="1.1"/><path d="M25.50,334.80 V338.30" stroke-width="1.2"/><path d="M64.00,334.80 V338.30" stroke-width="1.2"/><path d="M101.70,334.80 V338.30" stroke-width="1.2"/><path d="M139.70,334.80 V338.30" stroke-width="1.2"/><path d="M177.80,334.80 V338.30" stroke-width="1.2"/><path d="M215.70,334.80 V338.30" stroke-width="1.2"/></g><g fill="none" stroke="#0c0c0c" stroke-width="1.7" stroke-linecap="butt"><path d="M288.80,206.00 V334.80 H513.50"/><path d="M286.10,326.00 H288.80" stroke-width="1.1"/><path d="M286.10,299.80 H288.80" stroke-width="1.1"/><path d="M286.10,279.30 H288.80" stroke-width="1.1"/><path d="M286.10,254.60 H288.80" stroke-width="1.1"/><path d="M286.10,231.30 H288.80" stroke-width="1.1"/><path d="M289.20,334.80 V338.30" stroke-width="1.2"/><path d="M327.20,334.80 V338.30" stroke-width="1.2"/><path d="M365.30,334.80 V338.30" stroke-width="1.2"/><path d="M403.90,334.80 V338.30" stroke-width="1.2"/><path d="M441.70,334.80 V338.30" stroke-width="1.2"/><path d="M479.70,334.80 V338.30" stroke-width="1.2"/></g><g fill="none" stroke="#363636" stroke-width="1.7" stroke-linecap="butt"><path d="M549.00,206.00 V334.80 H773.50"/><path d="M546.30,326.00 H549.00" stroke-width="1.1"/><path d="M546.30,299.80 H549.00" stroke-width="1.1"/><path d="M546.30,279.30 H549.00" stroke-width="1.1"/><path d="M546.30,254.60 H549.00" stroke-width="1.1"/><path d="M546.30,231.30 H549.00" stroke-width="1.1"/><path d="M549.70,334.80 V338.30" stroke-width="1.2"/><path d="M588.00,334.80 V338.30" stroke-width="1.2"/><path d="M626.30,334.80 V338.30" stroke-width="1.2"/><path d="M664.60,334.80 V338.30" stroke-width="1.2"/><path d="M702.90,334.80 V338.30" stroke-width="1.2"/><path d="M741.20,334.80 V338.30" stroke-width="1.2"/></g><text transform="translate(16.40,140.40) scale(0.92,1)" text-anchor="end" class="tk">0.0</text><text transform="translate(16.40,114.20) scale(0.92,1)" text-anchor="end" class="tk">0.2</text><text transform="translate(16.40,94.00) scale(0.92,1)" text-anchor="end" class="tk">0.4</text><text transform="translate(16.40,69.70) scale(0.92,1)" text-anchor="end" class="tk">0.6</text><text transform="translate(16.40,45.90) scale(0.92,1)" text-anchor="end" class="tk">0.8</text><text transform="translate(24.50,160.90) scale(0.93,1)" text-anchor="middle" class="tk">200</text><text transform="translate(63.30,160.90) scale(0.93,1)" text-anchor="middle" class="tk">300</text><text transform="translate(100.80,160.90) scale(0.93,1)" text-anchor="middle" class="tk">400</text><text transform="translate(139.00,160.90) scale(0.93,1)" text-anchor="middle" class="tk">500</text><text transform="translate(177.30,160.90) scale(0.93,1)" text-anchor="middle" class="tk">600</text><text transform="translate(215.00,160.90) scale(0.93,1)" text-anchor="middle" class="tk">700</text><text x="96.00" y="176.00" class="ti" textLength="79.5" lengthAdjust="spacingAndGlyphs">Wavelength (nm)</text><text transform="translate(4.40,13.90)" class="pl">(a)</text><text transform="translate(281.40,140.40) scale(0.92,1)" text-anchor="end" class="tk">0.0</text><text transform="translate(281.40,114.20) scale(0.92,1)" text-anchor="end" class="tk">0.2</text><text transform="translate(281.40,94.00) scale(0.92,1)" text-anchor="end" class="tk">0.4</text><text transform="translate(281.40,69.70) scale(0.92,1)" text-anchor="end" class="tk">0.6</text><text transform="translate(281.40,45.90) scale(0.92,1)" text-anchor="end" class="tk">0.8</text><text transform="translate(289.50,160.90) scale(0.93,1)" text-anchor="middle" class="tk">200</text><text transform="translate(327.50,160.90) scale(0.93,1)" text-anchor="middle" class="tk">400</text><text transform="translate(365.80,160.90) scale(0.93,1)" text-anchor="middle" class="tk">500</text><text transform="translate(404.00,160.90) scale(0.93,1)" text-anchor="middle" class="tk">600</text><text transform="translate(441.80,160.90) scale(0.93,1)" text-anchor="middle" class="tk">700</text><text x="346.20" y="176.20" class="ti" textLength="87.6" lengthAdjust="spacingAndGlyphs">Wavelength (nm)</text><text transform="translate(266.50,13.60)" class="pl">(b)</text><text transform="translate(544.20,140.40) scale(0.92,1)" text-anchor="end" class="tk">0.0</text><text transform="translate(544.20,114.20) scale(0.92,1)" text-anchor="end" class="tk">0.2</text><text transform="translate(544.20,94.00) scale(0.92,1)" text-anchor="end" class="tk">0.4</text><text transform="translate(544.20,69.70) scale(0.92,1)" text-anchor="end" class="tk">0.6</text><text transform="translate(544.20,45.90) scale(0.92,1)" text-anchor="end" class="tk">0.8</text><text transform="translate(551.00,160.90) scale(0.93,1)" text-anchor="middle" class="tk">200</text><text transform="translate(589.20,160.90) scale(0.93,1)" text-anchor="middle" class="tk">400</text><text transform="translate(627.50,160.90) scale(0.93,1)" text-anchor="middle" class="tk">500</text><text transform="translate(665.20,160.90) scale(0.93,1)" text-anchor="middle" class="tk">600</text><text transform="translate(703.70,160.90) scale(0.93,1)" text-anchor="middle" class="tk">700</text><text x="620.10" y="175.70" class="ti" textLength="87.2" lengthAdjust="spacingAndGlyphs">Wavelength (nm)</text><text transform="translate(528.50,13.60)" class="pl">(c)</text><text transform="translate(16.80,329.20) scale(0.92,1)" text-anchor="end" class="tk">0.0</text><text transform="translate(16.80,303.00) scale(0.92,1)" text-anchor="end" class="tk">0.2</text><text transform="translate(16.80,282.50) scale(0.92,1)" text-anchor="end" class="tk">0.4</text><text transform="translate(16.80,257.80) scale(0.92,1)" text-anchor="end" class="tk">0.6</text><text transform="translate(16.80,234.50) scale(0.92,1)" text-anchor="end" class="tk">0.8</text><text transform="translate(25.50,349.40) scale(0.93,1)" text-anchor="middle" class="tk">200</text><text transform="translate(64.00,349.40) scale(0.93,1)" text-anchor="middle" class="tk">300</text><text transform="translate(101.70,349.40) scale(0.93,1)" text-anchor="middle" class="tk">400</text><text transform="translate(139.70,349.40) scale(0.93,1)" text-anchor="middle" class="tk">500</text><text transform="translate(177.80,349.40) scale(0.93,1)" text-anchor="middle" class="tk">600</text><text transform="translate(215.70,349.40) scale(0.93,1)" text-anchor="middle" class="tk">700</text><text x="93.90" y="364.20" class="ti" textLength="86.6" lengthAdjust="spacingAndGlyphs">Wavelength (nm)</text><text transform="translate(1.00,208.50)" class="pl">(d)</text><text transform="translate(281.20,329.20) scale(0.92,1)" text-anchor="end" class="tk">0.0</text><text transform="translate(281.20,303.00) scale(0.92,1)" text-anchor="end" class="tk">0.2</text><text transform="translate(281.20,282.50) scale(0.92,1)" text-anchor="end" class="tk">0.4</text><text transform="translate(281.20,257.80) scale(0.92,1)" text-anchor="end" class="tk">0.6</text><text transform="translate(281.20,234.50) scale(0.92,1)" text-anchor="end" class="tk">0.8</text><text transform="translate(289.20,349.40) scale(0.93,1)" text-anchor="middle" class="tk">200</text><text transform="translate(327.20,349.40) scale(0.93,1)" text-anchor="middle" class="tk">300</text><text transform="translate(365.30,349.40) scale(0.93,1)" text-anchor="middle" class="tk">400</text><text transform="translate(403.90,349.40) scale(0.93,1)" text-anchor="middle" class="tk">500</text><text transform="translate(441.70,349.40) scale(0.93,1)" text-anchor="middle" class="tk">600</text><text transform="translate(479.70,349.40) scale(0.93,1)" text-anchor="middle" class="tk">700</text><text x="356.20" y="365.20" class="ti" textLength="87.6" lengthAdjust="spacingAndGlyphs">Wavelength (nm)</text><text transform="translate(265.50,209.80)" class="pl">(e)</text><text transform="translate(543.30,329.20) scale(0.92,1)" text-anchor="end" class="tk">0.0</text><text transform="translate(543.30,303.00) scale(0.92,1)" text-anchor="end" class="tk">0.2</text><text transform="translate(543.30,282.50) scale(0.92,1)" text-anchor="end" class="tk">0.4</text><text transform="translate(543.30,257.80) scale(0.92,1)" text-anchor="end" class="tk">0.6</text><text transform="translate(543.30,234.50) scale(0.92,1)" text-anchor="end" class="tk">0.8</text><text transform="translate(549.70,349.40) scale(0.93,1)" text-anchor="middle" class="tk">200</text><text transform="translate(588.00,349.40) scale(0.93,1)" text-anchor="middle" class="tk">300</text><text transform="translate(626.30,349.40) scale(0.93,1)" text-anchor="middle" class="tk">400</text><text transform="translate(664.60,349.40) scale(0.93,1)" text-anchor="middle" class="tk">500</text><text transform="translate(702.90,349.40) scale(0.93,1)" text-anchor="middle" class="tk">600</text><text transform="translate(741.20,349.40) scale(0.93,1)" text-anchor="middle" class="tk">700</text><text x="618.30" y="363.00" class="ti" textLength="87.6" lengthAdjust="spacingAndGlyphs">Wavelength (nm)</text><text transform="translate(528.50,209.80)" class="pl">(f)</text><text class="lb" transform="translate(351.76,38.60) rotate(-90)" x="0" y="0" textLength="24.6" lengthAdjust="spacingAndGlyphs" style="font-size:7.7px;fill:#1a1a1a;stroke:#1a1a1a;stroke-width:0.35px">464.00</text><text class="lb" transform="translate(612.24,38.60) rotate(-90)" x="0" y="0" textLength="24.6" lengthAdjust="spacingAndGlyphs" style="font-size:8.5px;fill:#1a1a1a;stroke:#1a1a1a;stroke-width:0.35px">464.00</text><text class="lb" transform="translate(126.84,212.80) rotate(-90)" x="0" y="0" textLength="24.7" lengthAdjust="spacingAndGlyphs" style="font-size:8.5px;fill:#1a1a1a;stroke:#1a1a1a;stroke-width:0.35px">464.00</text><text class="lb" transform="translate(394.31,253.00) rotate(-90)" x="0" y="0" textLength="25.0" lengthAdjust="spacingAndGlyphs" style="font-size:8.7px">464.00</text><text class="lb" transform="translate(643.21,225.80) rotate(-90)" x="0" y="0" textLength="24.7" lengthAdjust="spacingAndGlyphs" style="font-size:8.7px">464.00</text><defs><linearGradient id="lgl" gradientUnits="userSpaceOnUse" x1="0" y1="24" x2="0" y2="91"><stop offset="0" stop-color="#d4d4d4"/><stop offset="0.7" stop-color="#c4c4c4"/><stop offset="1" stop-color="#8a8a8a"/></linearGradient></defs><rect x="688.7" y="24.5" width="1" height="66" fill="url(#lgl)"/><circle cx="689.2" cy="91" r="1.1" fill="#333"/><text x="697.3" y="35.20" class="lg" fill="#8e8e86">0</text><text x="721.6" y="35.20" class="lg" fill="#8e8e86" textLength="22.4" lengthAdjust="spacingAndGlyphs">min</text><text x="697.3" y="48.80" class="lg" fill="#bdbde9">30</text><text x="721.6" y="48.80" class="lg" fill="#bdbde9" textLength="22.4" lengthAdjust="spacingAndGlyphs">min</text><text x="697.3" y="62.90" class="lg" fill="#c47f99">60</text><text x="721.6" y="62.90" class="lg" fill="#c47f99" textLength="22.4" lengthAdjust="spacingAndGlyphs">min</text><text x="697.3" y="76.60" class="lg" fill="#aee9ae">90</text><text x="721.6" y="76.60" class="lg" fill="#aee9ae" textLength="22.4" lengthAdjust="spacingAndGlyphs">min</text><text x="697.3" y="90.60" class="lg" fill="#6cc66c">120</text><text x="721.6" y="90.60" class="lg" fill="#6cc66c" textLength="22.4" lengthAdjust="spacingAndGlyphs">min</text></svg></body></html>
